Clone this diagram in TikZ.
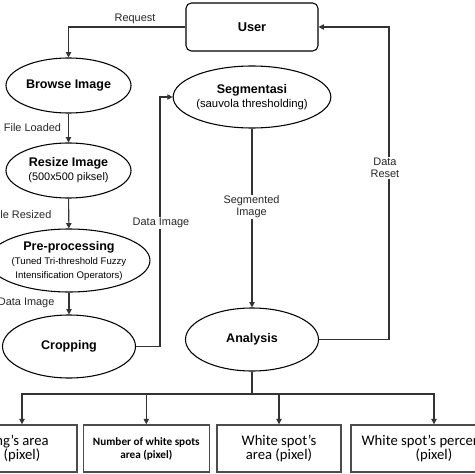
\documentclass[tikz,border=0pt]{standalone}
\usepackage{fontspec}
\setmainfont{Liberation Sans}
\newfontfamily\calfont{Carlito}
\usetikzlibrary{shapes.geometric,arrows.meta}
\newcommand{\subsz}{\mdseries\fontsize{8.2}{10}\selectfont}
\newcommand{\tinysz}{\mdseries\fontsize{7.2}{8.4}\selectfont}
\newcommand{\segsz}{\mdseries\fontsize{8.5}{10.5}\selectfont}
\begin{document}
\begin{tikzpicture}[x=0.75pt,y=-0.75pt,
  proc/.style={ellipse,draw=black,line width=0.8pt,inner sep=0pt,align=center,
    font=\fontsize{9.4}{10.5}\selectfont\bfseries},
  conn/.style={draw=black!80,line width=0.8pt},
  arr/.style={conn,-{Triangle[length=4pt,width=4pt]}},
  lbl/.style={font=\fontsize{8.2}{9}\selectfont,inner sep=1pt,text=black!85,align=center},
  res/.style={draw=black!70,line width=1.1pt,minimum height=35.25pt,inner sep=0pt,align=center,
    font=\calfont\fontsize{11}{10.5}\selectfont},
]
\useasboundingbox (0,0) rectangle (474,474);

% nodes
\node[draw=black,line width=0.8pt,rounded corners=4pt,minimum width=99pt,minimum height=36pt,
  font=\fontsize{9.6}{11}\selectfont\bfseries] (user) at (252,27) {User};
\node[proc,minimum width=93.75pt,minimum height=41.25pt] (browse) at (68.5,85.5) {Browse Image};
\node[proc,minimum width=93.75pt,minimum height=41.25pt] (resize) at (68.5,170.5)
  {Resize Image\\\subsz (500x500 piksel)};
\node[proc,minimum width=99pt,minimum height=47.25pt] (pre) at (69,260.5)
  {Pre-processing\\\tinysz (Tuned Tri-threshold Fuzzy\\\tinysz Intensification Operators)};
\node[proc,minimum width=99.75pt,minimum height=47.25pt] (crop) at (69,346.5) {Cropping};
\node[proc,minimum width=99.75pt,minimum height=46.5pt] (seg) at (252,97)
  {Segmentasi\\\segsz (sauvola thresholding)};
\node[proc,minimum width=99.75pt,minimum height=47.25pt] (ana) at (252,339.5) {Analysis};

\node[res,minimum width=82.5pt] (b1) at (22,448.5) {ng’s area\\(pixel)};
\node[res,minimum width=94.5pt,font=\calfont\fontsize{8.4}{9.8}\selectfont\bfseries] (b2) at (146.3,448.5)
  {Number of white spots\\area (pixel)};
\node[res,minimum width=93pt] (b3) at (279,448.5) {White spot’s\\area (pixel)};
\node[res,minimum width=124.5pt] (b4) at (434,448.5) {White spot’s percentage\\(pixel)};

% helper coordinates
\coordinate (cropx) at (160,0);
\coordinate (resetx) at (389,0);
\coordinate (bus) at (252,394);

% connectors
\draw[arr] (user.west) -| (browse.north);
\draw[arr] (browse) -- (resize);
\draw[arr] (resize) -- (pre);
\draw[arr] (pre) -- (crop);
\draw[arr] (crop.east) -- (crop.east -| cropx) |- (seg.west);
\draw[arr] (seg) -- (ana);
\draw[arr] (ana.east) -- (ana.east -| resetx) |- (user.east);
\draw[conn] (ana.south) -- (bus);
\draw[arr] (bus) -| (b1.north);
\draw[arr] (bus) -| (b2.north);
\draw[arr] (bus) -| (b3.north);
\draw[arr] (bus) -| (b4.north);

% labels
\node[lbl] (lreq) at (135,19) {Request};
\node[lbl] (lload) at (32.5,128) {File Loaded};
\node[lbl,anchor=east] (lres) at (53,215) {File Resized};
\node[lbl,anchor=east] (ldata1) at (56,303) {Data Image};
\node[lbl,fill=white] (ldata2) at (161,223) {Data Image};
\node[lbl,fill=white] (lsegimg) at (251.5,207) {Segmented\\Image};
\node[lbl,fill=white] (lreset) at (385,168) {Data\\Reset};
\end{tikzpicture}
\end{document}
